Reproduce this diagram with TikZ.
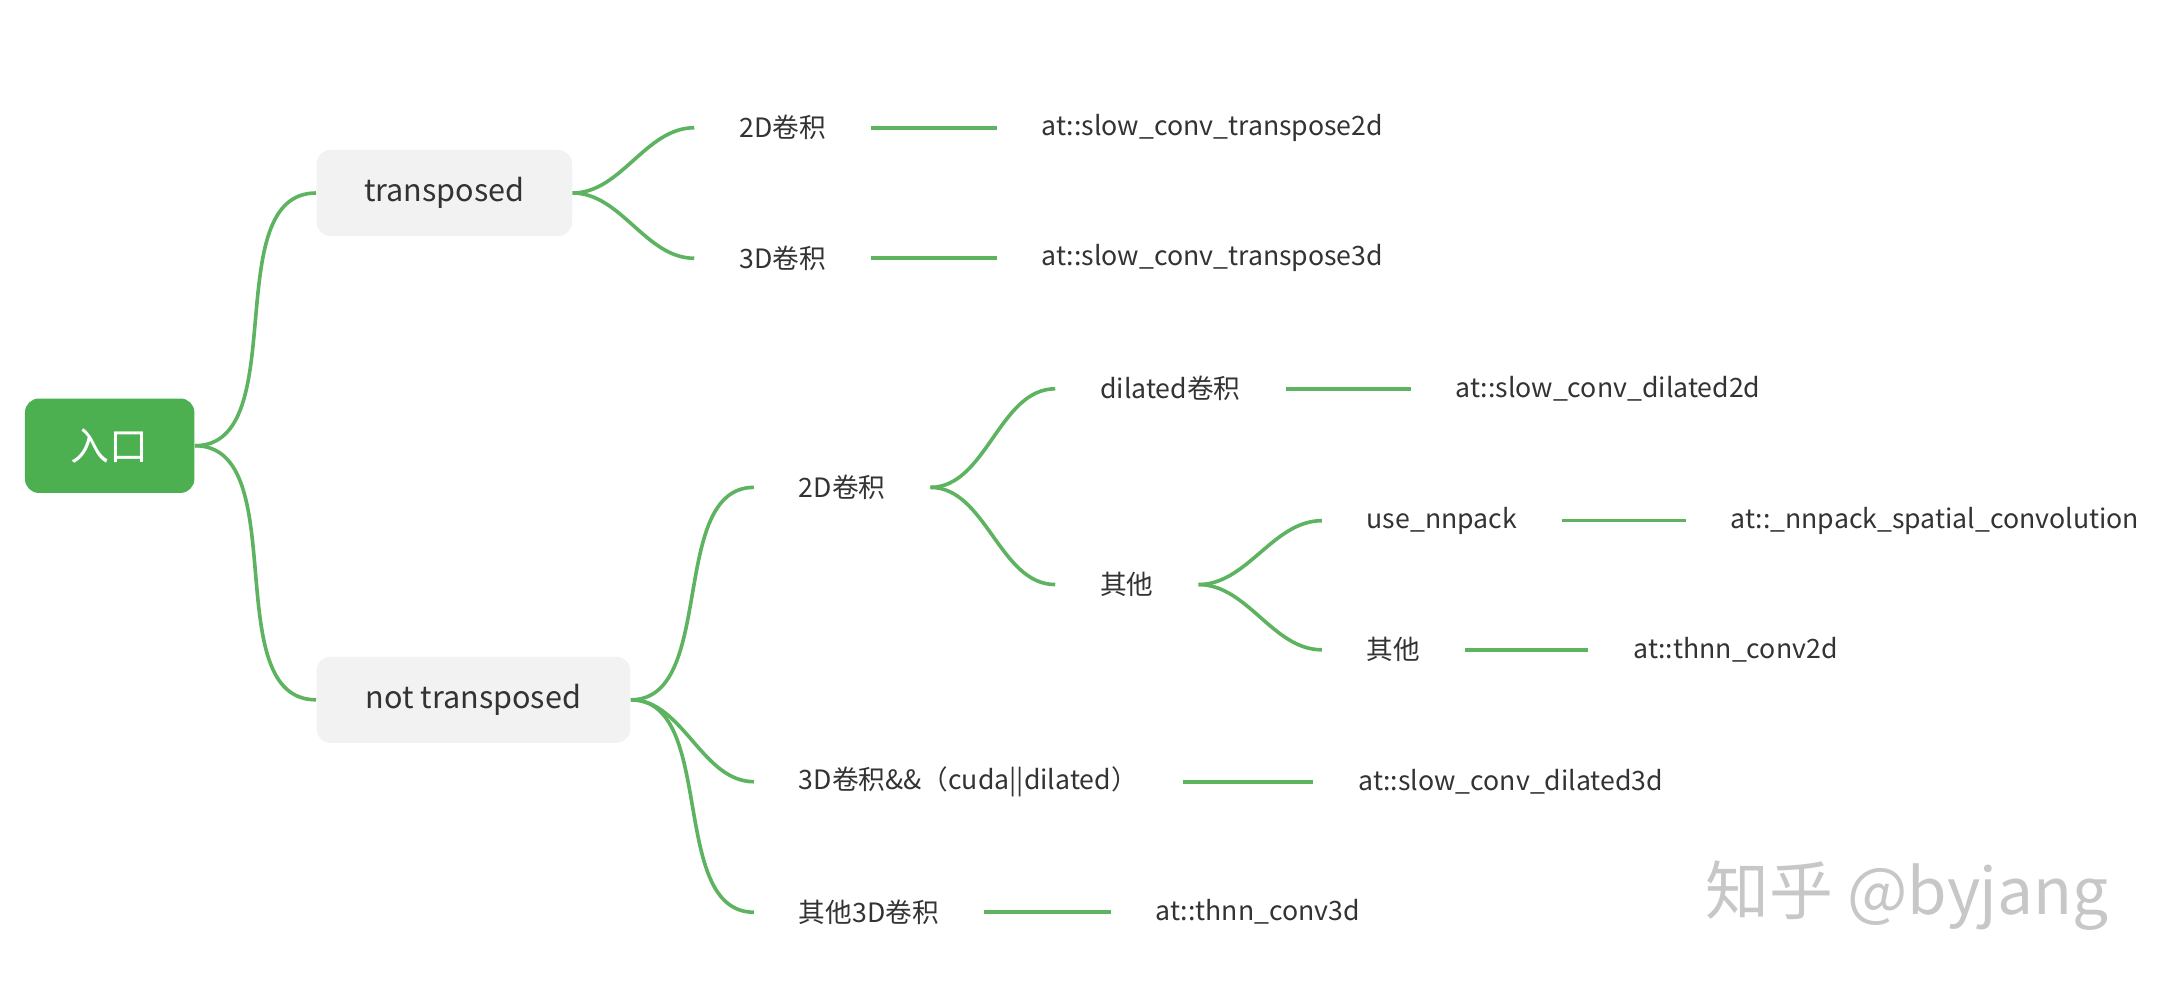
\documentclass[tikz,border=0pt]{standalone}
\usepackage{fontspec}
\setmainfont{Noto Sans CJK SC}
\begin{document}
\begin{tikzpicture}[x=0.5pt,y=-0.5pt,
  txt/.style={anchor=west,inner xsep=16pt,inner ysep=2pt,font=\fontsize{9.6}{12}\selectfont,text=black!80},
  gbox/.style={fill=black!5,rounded corners=5pt,minimum height=31pt,inner xsep=15pt,font=\fontsize{11}{13}\selectfont,text=black!80},
  root/.style={fill=rootg,rounded corners=5pt,minimum width=61pt,minimum height=34pt,font=\fontsize{14}{16}\selectfont,text=white},
  con/.style={draw=lg,line width=1.3pt,out=0,in=180,looseness=0.9},
  hl/.style={draw=lg,line width=1.3pt}]
\definecolor{rootg}{HTML}{4CAF50}
\definecolor{lg}{HTML}{5DB35F}
\useasboundingbox (0,0) rectangle (1560,714.5);
\node[root] (r) at (79,321) {入口};
\node[gbox,minimum width=92pt] (t) at (320,139) {transposed};
\node[gbox,minimum width=113pt] (nt) at (341,504) {not transposed};
% transposed
\node[txt] (t2) at (500,92) {2D卷积};
\node[txt] (t2f) at (718,92) {at::slow\_conv\_transpose2d};
\node[txt] (t3) at (500,186) {3D卷积};
\node[txt] (t3f) at (718,186) {at::slow\_conv\_transpose3d};
% not transposed
\node[txt] (n2) at (543,351) {2D卷积};
\node[txt] (dl) at (760,280) {dilated卷积};
\node[txt] (dlf) at (1016,280) {at::slow\_conv\_dilated2d};
\node[txt] (ot) at (760,421) {其他};
\node[txt] (nn) at (952,375) {use\_nnpack};
\node[txt] (nnf) at (1214,375) {at::\_nnpack\_spatial\_convolution};
\node[txt] (ot2) at (952,468) {其他};
\node[txt] (ot2f) at (1144,468) {at::thnn\_conv2d};
\node[txt] (n3) at (543,563) {3D卷积\&\&（cuda||dilated）};
\node[txt] (n3f) at (946,563) {at::slow\_conv\_dilated3d};
\node[txt] (o3) at (543,657) {其他3D卷积};
\node[txt] (o3f) at (800,657) {at::thnn\_conv3d};
\node[font=\fontsize{23}{26}\selectfont,text=black!22,anchor=west,inner sep=0pt] (wm) at (1228,645) {知乎 @byjang};
% connectors
\foreach \a/\b in {r/t,r/nt,t/t2,t/t3,nt/n2,nt/n3,nt/o3,n2/dl,n2/ot,ot/nn,ot/ot2}
  \draw[con] (\a.east) to (\b.west);
\foreach \a/\b in {t2/t2f,t3/t3f,dl/dlf,nn/nnf,ot2/ot2f,n3/n3f,o3/o3f}
  \draw[hl] (\a.east) -- (\b.west);
\end{tikzpicture}
\end{document}
